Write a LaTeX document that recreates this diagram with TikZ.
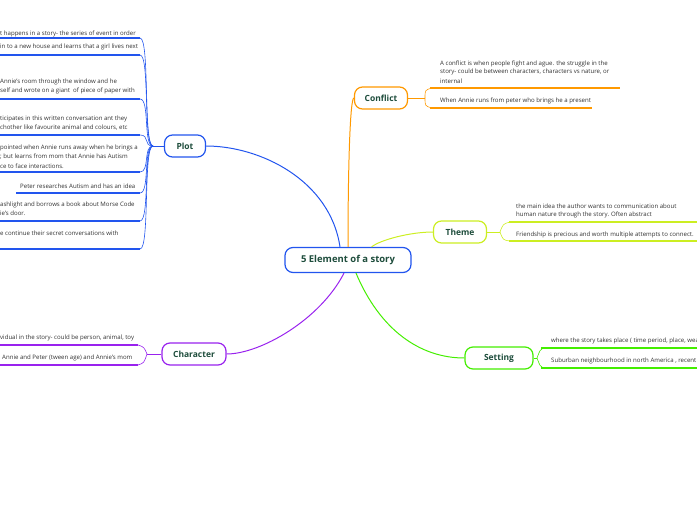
\documentclass[tikz,border=0pt]{standalone}
\usepackage{fontspec}
\setmainfont{Open Sans}
\definecolor{cplot}{HTML}{2255EE}
\definecolor{cconf}{HTML}{FF9900}
\definecolor{ctheme}{HTML}{CCEE22}
\definecolor{cset}{HTML}{44EE00}
\definecolor{cchar}{HTML}{9922EE}
\definecolor{ctxt}{HTML}{1E4D3C}
\begin{document}
\begin{tikzpicture}[x=1bp,y=-1bp,
  topic/.style={draw=#1,line width=1.2pt,rounded corners=8bp,fill=white,font=\fontsize{8.5}{9}\selectfont\bfseries,text=ctxt,inner sep=0pt},
  lt/.style={font=\fontsize{6.1}{7}\selectfont,text=black!80,inner sep=0pt,anchor=west},
  ul/.style={draw=#1,line width=1.1pt},
  br/.style={draw=#1,line width=0.6pt}]
\useasboundingbox (0,0) rectangle (697,520);
\clip (0,0) rectangle (697,520);
% center
\node[topic=cplot,minimum width=126bp,minimum height=25bp,font=\fontsize{9.5}{10}\selectfont\bfseries] (c) at (348,260) {5 Element of a story};
% topics
\node[topic=cplot,minimum width=41bp,minimum height=22bp] (plot) at (185,146) {Plot};
\node[topic=cconf,minimum width=53bp,minimum height=22bp] (conf) at (381,98) {Conflict};
\node[topic=ctheme,minimum width=53bp,minimum height=22bp] (theme) at (460,232) {Theme};
\node[topic=cset,minimum width=68bp,minimum height=22bp] (set) at (499,358) {Setting};
\node[topic=cchar,minimum width=64bp,minimum height=22bp] (char) at (194,354) {Character};
% main connectors
\draw[cplot,line width=1pt] (c.north) ++(-8,0) .. controls (330,180) and (260,146) .. (plot.east);
\draw[cconf,line width=1pt] (c.north) ++(0,0) .. controls (348,170) and (350,98) .. (conf.west);
\draw[ctheme,line width=1pt] (c.north east) ++(-40,0) .. controls (380,240) and (410,232) .. (theme.west);
\draw[cset,line width=1pt] (c.south) ++(8,0) .. controls (380,330) and (420,358) .. (set.west);
\draw[cchar,line width=1pt] (c.south) ++(-4,0) .. controls (320,320) and (260,354) .. (char.east);
% Plot leaves
\coordinate (pb) at (153,146);
\draw[br=cplot] (plot.west) -- (pb);
\foreach \y/\x in {38/0,55/0,99/0,135/0,172/0,193/16,221/0,249/0}{
  \draw[ul=cplot] (\x,\y) -- (140,\y);
  \draw[br=cplot] (140,\y) .. controls (150,\y) and (143,146) .. (pb);
}
\node[lt] (p1) at (0,34) {t happens in a story- the series of event in order};
\node[lt] (p2) at (0,47) {in to a new house and learns that a girl lives next};
\node[lt] (p3a) at (0,82) {Annie's room through the window and he};
\node[lt] (p3b) at (0,91) {self and wrote on a giant\ \ of piece of paper with};
\node[lt] (p4a) at (0,119) {ticipates in this written conversation ant they};
\node[lt] (p4b) at (0,128) {chother like favourite animal and colours, etc};
\node[lt] (p5a) at (0,148) {pointed when Annie runs away when he brings a};
\node[lt] (p5b) at (0,157) {; but learns from mom that Annie has Autism};
\node[lt] (p5c) at (0,166) {ce to face interactions.};
\node[lt] (p6) at (20,186) {Peter researches Autism and has an idea};
\node[lt] (p7a) at (0,205) {ashlight and borrows a book about Morse Code};
\node[lt] (p7b) at (0,213) {ie's door.};
\node[lt] (p8) at (0,233) {e continue their secret conversations with};
% Conflict leaves
\coordinate (cb) at (425,98);
\draw[br=cconf] (conf.east) -- (cb);
\draw[ul=cconf] (430,88) -- (620,88);
\draw[ul=cconf] (430,108) -- (592,108);
\draw[br=cconf] (cb) .. controls (425,90) .. (432,88);
\draw[br=cconf] (cb) .. controls (425,106) .. (432,108);
\node[lt] (c1a) at (440,64) {A conflict is when people fight and ague. the struggle in the};
\node[lt] (c1b) at (440,72) {story- could be between characters, characters vs nature, or};
\node[lt] (c1c) at (440,81) {internal};
\node[lt] (c2) at (440,101) {When Annie runs from peter who brings he a present};
% Theme leaves
\coordinate (tb) at (500,232);
\draw[br=ctheme] (theme.east) -- (tb);
\draw[ul=ctheme] (509,222) -- (697,222);
\draw[ul=ctheme] (509,241) -- (697,241);
\draw[br=ctheme] (tb) .. controls (503,224) .. (510,222);
\draw[br=ctheme] (tb) .. controls (503,240) .. (510,241);
\node[lt] (t1a) at (516,206) {the main idea the author wants to communication about};
\node[lt] (t1b) at (516,215) {human nature through the story. Often abstract};
\node[lt] (t2) at (516,235) {Friendship is precious and worth multiple attempts to connect.};
% Setting leaves
\coordinate (sb) at (537,358);
\draw[br=cset] (set.east) -- (sb);
\draw[ul=cset] (541,348) -- (697,348);
\draw[ul=cset] (541,368) -- (697,368);
\draw[br=cset] (sb) .. controls (540,350) .. (543,348);
\draw[br=cset] (sb) .. controls (540,366) .. (543,368);
\node[lt] (s1) at (551,341) {where the story takes place ( time period, place, wea};
\node[lt] (s2) at (551,361) {Suburban neighbourhood in north America , recent pa};
% Character leaves
\coordinate (chb) at (147,354);
\draw[br=cchar] (char.west) -- (chb);
\draw[ul=cchar] (0,345) -- (138,345);
\draw[ul=cchar] (0,365) -- (138,365);
\draw[br=cchar] (chb) .. controls (144,347) .. (138,345);
\draw[br=cchar] (chb) .. controls (144,363) .. (138,365);
\node[lt] (h1) at (0,338) {vidual in the story- could be person, animal, toy};
\node[lt] (h2) at (2,358) {Annie and Peter (tween age) and Annie's mom};
\end{tikzpicture}
\end{document}
